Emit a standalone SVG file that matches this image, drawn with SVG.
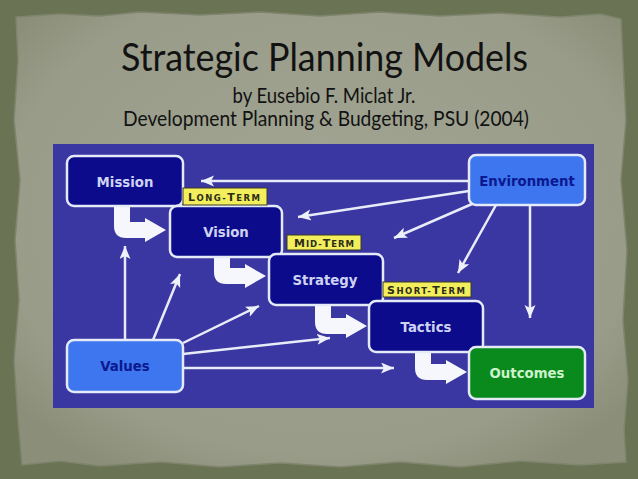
<svg xmlns="http://www.w3.org/2000/svg" width="638" height="479" viewBox="0 0 638 479">
<defs>
<radialGradient id="paper" cx="50%" cy="45%" r="65%">
<stop offset="0" stop-color="#a2a593"/>
<stop offset="0.8" stop-color="#999c89"/>
<stop offset="1" stop-color="#8b8f79"/>
</radialGradient>
<marker id="ah" markerUnits="userSpaceOnUse" markerWidth="15" markerHeight="12" refX="13" refY="5.5" orient="auto">
<path d="M0,0 L13,5.5 L0,11 L3,5.5 Z" fill="#eef1fa"/>
</marker>
<style>
.title{font-family:Lato,"Open Sans",sans-serif;fill:#121212;text-anchor:middle}
.node rect{stroke:#e4eaf7;stroke-width:2.5}
.dark rect{fill:#0c0b8c}
.light rect{fill:#3d76ee}
.green rect{fill:#0a8a1c}
.node text{font-family:"DejaVu Sans",sans-serif;font-weight:bold;font-size:13.3px;text-anchor:middle}
.dark text{fill:#cfd3f2}
.light text{fill:#0b1890}
.green text{fill:#cdf3cd}
.lbl rect{fill:#f2ee5c;stroke:#3a3a22;stroke-width:1}
.lbl text{font-family:"DejaVu Sans",sans-serif;font-weight:bold;font-size:11px;fill:#2c2c18}
.con line{stroke:#e8ecf8;stroke-width:2.5;marker-end:url(#ah)}
.blk{fill:#f5f7fc}
</style>
</defs>
<rect x="0" y="0" width="638" height="479" fill="#6b7355"/>
<polygon fill="url(#paper)" stroke="#7f846d" stroke-width="1.5" points="16,17 60,14 100,16 140,12 200,15 260,12 320,16 380,12 440,16 500,13 560,17 600,14 621,19 623,60 626,120 621,180 627,250 623,320 628,380 624,430 626,462 580,465 520,461 460,467 400,462 340,467 280,463 220,467 160,462 100,466 60,461 22,465 18,420 14,360 19,300 15,240 20,180 14,120 18,60"/>
<g id="title">
<text class="title" x="324.5" y="71" font-size="39" textLength="407" lengthAdjust="spacingAndGlyphs">Strategic Planning Models</text>
<text class="title" x="324" y="103" font-size="21" textLength="183" lengthAdjust="spacingAndGlyphs">by Eusebio F. Miclat Jr.</text>
<text class="title" x="326" y="126" font-size="21" textLength="406" lengthAdjust="spacingAndGlyphs">Development Planning &amp; Budgeting, PSU (2004)</text>
</g>
<rect id="panel" x="53" y="144" width="541" height="264" fill="#3a36a2"/>
<g id="connectors" class="con">
<line x1="469" y1="181" x2="201" y2="181"/>
<line x1="469" y1="191" x2="298" y2="217"/>
<line x1="472" y1="204" x2="394" y2="238"/>
<line x1="496" y1="205" x2="458" y2="273"/>
<line x1="530" y1="205" x2="530" y2="318"/>
<line x1="125" y1="340" x2="125" y2="246"/>
<line x1="153" y1="340" x2="180" y2="274"/>
<line x1="183" y1="343" x2="259" y2="306"/>
<line x1="183" y1="354" x2="330" y2="338"/>
<line x1="183" y1="368" x2="394" y2="368"/>
<path class="blk" d="M114,206 L114,226 Q114,238 126,238 L145,238 L145,242 L166,230 L145,218 L145,222 L130,222 L130,206 Z"/>
<path class="blk" d="M214,257 L214,272 Q214,284 226,284 L245,284 L245,288 L266,276 L245,264 L245,268 L230,268 L230,257 Z"/>
<path class="blk" d="M315,305 L315,322 Q315,334 327,334 L346,334 L346,338 L367,326 L346,314 L346,318 L331,318 L331,305 Z"/>
<path class="blk" d="M415,352 L415,368 Q415,380 427,380 L446,380 L446,384 L467,372 L446,360 L446,364 L431,364 L431,352 Z"/>
</g>
<g id="mission" class="node dark"><rect x="67" y="156" width="116" height="50" rx="7"/><text x="125" y="187">Mission</text></g>
<g id="vision" class="node dark"><rect x="170" y="206" width="112" height="51" rx="7"/><text x="226" y="237">Vision</text></g>
<g id="strategy" class="node dark"><rect x="269" y="254" width="114" height="51" rx="7"/><text x="325" y="285">Strategy</text></g>
<g id="tactics" class="node dark"><rect x="369" y="301" width="114" height="51" rx="7"/><text x="426" y="332">Tactics</text></g>
<g id="outcomes" class="node green"><rect x="469" y="347" width="116" height="52" rx="7"/><text x="527" y="378">Outcomes</text></g>
<g id="environment" class="node light"><rect x="469" y="155" width="116" height="50" rx="7"/><text x="527" y="186">Environment</text></g>
<g id="values" class="node light"><rect x="67" y="340" width="116" height="52" rx="7"/><text x="125" y="371">Values</text></g>
<g id="long-term" class="lbl"><rect x="183" y="188" width="84" height="17"/><text x="188" y="201" textLength="72" lengthAdjust="spacing">L<tspan font-size="8.5">ONG-</tspan>T<tspan font-size="8.5">ERM</tspan></text></g>
<g id="mid-term" class="lbl"><rect x="287" y="235" width="74" height="15"/><text x="294" y="247" textLength="60" lengthAdjust="spacing">M<tspan font-size="8.5">ID-</tspan>T<tspan font-size="8.5">ERM</tspan></text></g>
<g id="short-term" class="lbl"><rect x="383" y="282" width="88" height="15"/><text x="387" y="294" textLength="78" lengthAdjust="spacing">S<tspan font-size="8.5">HORT-</tspan>T<tspan font-size="8.5">ERM</tspan></text></g>
</svg>
